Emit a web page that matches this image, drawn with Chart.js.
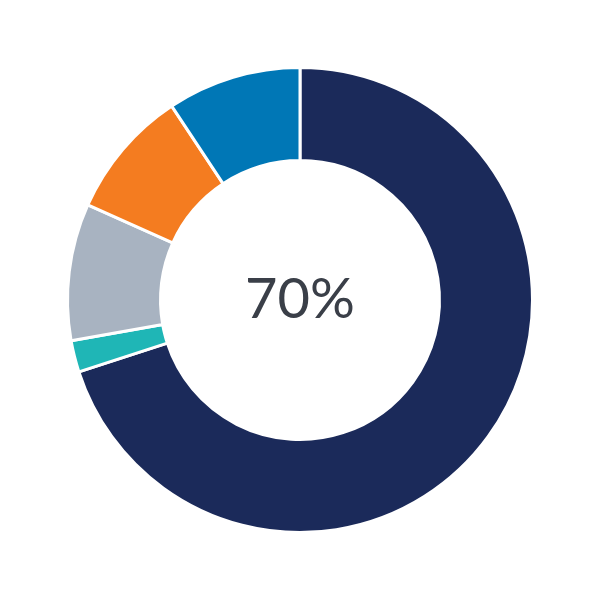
<!DOCTYPE html>
<html lang="en">
<head>
<meta charset="UTF-8">
<title>Doughnut</title>
<script src="https://cdn.jsdelivr.net/npm/chart.js"></script>
<style>
body { margin: 0; padding: 0; background: #fff; }
#wrap { width: 600px; height: 600px; }
</style>
</head>
<body>
<div id="wrap"><canvas id="chart"></canvas></div>
<script>
// slices, clockwise from 12 o'clock
var labels = ['Navy', 'Teal', 'Gray', 'Orange', 'Blue'];
var values = [70, 2.2, 9.5, 9, 9.3];
var colors = ['#1b2a5a', '#1fb6b6', '#a8b3c1', '#f47c20', '#0077b6'];
var centerLabel = '70%';

var centerText = {
    id: 'centerText',
    afterDraw: function(chart) {
        var ctx = chart.ctx;
        var meta = chart.getDatasetMeta(0).data[0];
        ctx.save();
        ctx.font = '400 56px Lato';
        ctx.fillStyle = '#3a3f48';
        ctx.textAlign = 'center';
        ctx.textBaseline = 'middle';
        ctx.fillText(centerLabel, meta.x, meta.y);
        ctx.restore();
    }
};

new Chart(document.getElementById('chart'), {
    type: 'doughnut',
    data: {
        labels: labels,
        datasets: [{
            data: values,
            backgroundColor: colors,
            borderColor: '#ffffff',
            borderWidth: 3
        }]
    },
    options: {
        responsive: true,
        maintainAspectRatio: false,
        animation: false,
        cutout: '60%',
        layout: { padding: 66 },
        plugins: {
            legend: { display: false },
            tooltip: { enabled: false }
        }
    },
    plugins: [centerText]
});
</script>
</body>
</html>
